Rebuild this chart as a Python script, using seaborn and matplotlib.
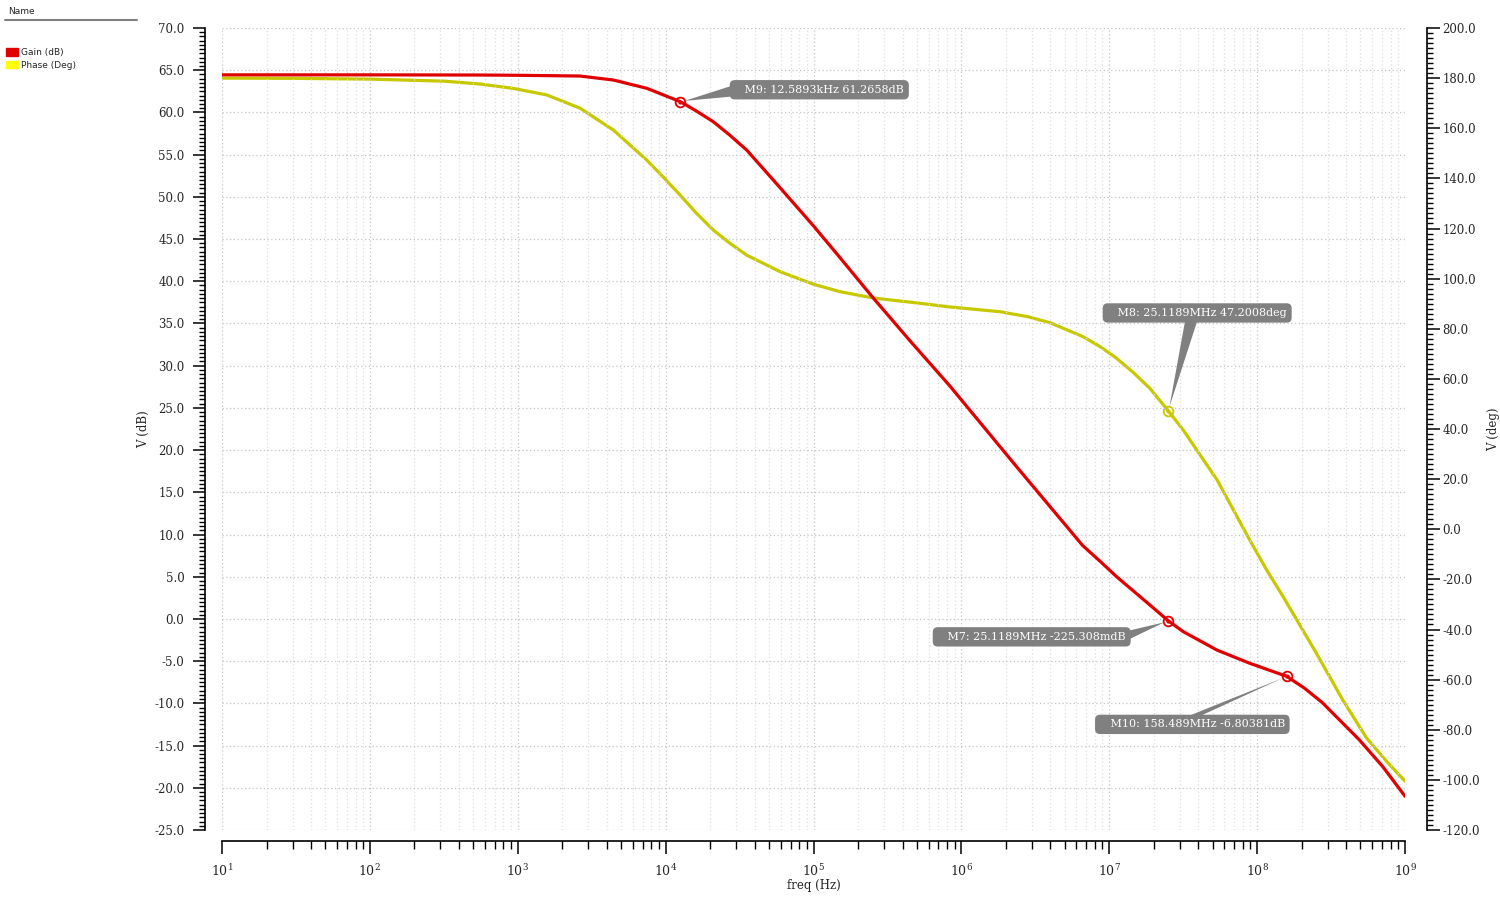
import matplotlib
matplotlib.use("Agg")
import numpy as np
import matplotlib.pyplot as plt
import seaborn as sns
from matplotlib.patches import Patch
from matplotlib.lines import Line2D
from matplotlib.ticker import MultipleLocator, LogLocator, NullFormatter, FormatStrFormatter

# --- data ---
freq_gain = [10, 100, 555, 1000, 2640, 4430, 7450, 12589.3, 16200, 21000, 27200,
             35300, 59300, 99500, 151000, 251200, 446700, 835600, 2.371e6, 6.607e6,
             8.71e6, 1.122e7, 1.884e7, 2.51189e7, 3.162e7, 5.37e7, 8.913e7, 1.58489e8,
             2.09e8, 2.754e8, 4.898e8, 7.079e8, 1e9]
gain_db = [64.45, 64.45, 64.43, 64.4, 64.31, 63.84, 62.86, 61.27, 60.15, 58.9, 57.3,
           55.55, 51.1, 46.6, 42.8, 38.1, 33.0, 27.6, 18.0, 8.7,
           6.8, 5.0, 1.65, -0.23, -1.5, -3.7, -5.25, -6.8,
           -8.2, -9.9, -14.3, -17.5, -21.0]

freq_phase = [10, 31.6, 100, 316, 555, 933, 1570, 2640, 4430, 7450, 9640, 12500,
              16200, 21000, 27200, 35300, 59300, 99500, 151000, 251200, 501200,
              835600, 1.82e6, 2.82e6, 3.981e6, 6.668e6, 8.71e6, 1.122e7, 1.445e7, 1.884e7,
              2.51189e7, 3.162e7, 5.37e7, 8.913e7, 1.161e8, 1.5e8, 2.512e8, 3.802e8,
              5.495e8, 7.586e8, 1e9]
phase_deg = [180.0, 179.9, 179.6, 178.8, 177.65, 175.9, 173.3, 168.0, 159.3, 147.3, 140.5, 133.4,
             126.0, 119.4, 114.1, 109.4, 102.8, 97.8, 94.8, 92.3, 90.3,
             88.7, 86.8, 84.8, 82.4, 76.8, 72.8, 68.2, 62.7, 56.2,
             47.2, 39.6, 19.6, -4.3, -16.3, -26.9, -49.4, -68.2,
             -83.3, -92.9, -100.5]

# markers: (name, freq, value, label)
gain_markers = [("M9", 12589.3, 61.2658, "M9: 12.5893kHz 61.2658dB"),
                ("M7", 2.51189e7, -0.225308, "M7: 25.1189MHz -225.308mdB"),
                ("M10", 1.58489e8, -6.80381, "M10: 158.489MHz -6.80381dB")]
phase_markers = [("M8", 2.51189e7, 47.2008, "M8: 25.1189MHz 47.2008deg")]

RED = "#e00000"
YEL = "#c8c800"
GREY = "#808080"

sns.set_theme(style="ticks")
plt.rcParams["font.family"] = ["DejaVu Serif"]
plt.rcParams["mathtext.fontset"] = "dejavuserif"

fig = plt.figure(figsize=(15, 9), dpi=100)
ax = fig.add_axes([222/1500, 1-830/900, 1183/1500, 802/900])
ax2 = ax.twinx()
ax.set_zorder(ax2.get_zorder() + 1)
ax.patch.set_visible(False)

sns.lineplot(x=freq_phase, y=phase_deg, ax=ax2, color=YEL, lw=2.3)
sns.lineplot(x=freq_gain, y=gain_db, ax=ax, color=RED, lw=2.3)

ax.set_xscale("log")
ax.set_xlim(10, 1e9)
ax.set_ylim(-25, 70)
ax2.set_ylim(-120, 200)

ax.yaxis.set_major_locator(MultipleLocator(5))
ax.yaxis.set_minor_locator(MultipleLocator(0.5))
ax.yaxis.set_major_formatter(FormatStrFormatter("%.1f"))
ax2.yaxis.set_major_locator(MultipleLocator(20))
ax2.yaxis.set_minor_locator(MultipleLocator(2))
ax2.yaxis.set_major_formatter(FormatStrFormatter("%.1f"))
ax.xaxis.set_major_locator(LogLocator(base=10, numticks=20))
ax.xaxis.set_minor_locator(LogLocator(base=10, subs=np.arange(2, 10), numticks=100))
ax.xaxis.set_minor_formatter(NullFormatter())

ax.grid(which="major", axis="both", color="#c4c4c4", lw=0.9, dashes=(1, 2))
ax.grid(which="minor", axis="x", color="#dedede", lw=0.9, dashes=(1, 2))
ax2.grid(False)

for a in (ax, ax2):
    for s in a.spines.values():
        s.set_visible(False)
ax.spines["left"].set_visible(True)
ax.spines["left"].set_position(("outward", 12))
ax.spines["bottom"].set_visible(True)
ax.spines["bottom"].set_position(("outward", 8))
ax2.spines["right"].set_visible(True)
ax2.spines["right"].set_position(("outward", 16))
for s in (ax.spines["left"], ax.spines["bottom"], ax2.spines["right"]):
    s.set_color("black")
    s.set_linewidth(1.2)

ax.tick_params(axis="y", which="major", length=9, width=1.1, pad=6, labelsize=8.5, color="black")
ax.tick_params(axis="y", which="minor", length=4, width=1.0, color="black", left=True)
ax.tick_params(axis="x", which="major", length=9, width=1.1, pad=7, labelsize=9, color="black")
ax.tick_params(axis="x", which="minor", length=6, width=1.0, color="black", bottom=True)
ax2.tick_params(axis="y", which="major", length=9, width=1.1, pad=2, labelsize=8.5, color="black")
ax2.tick_params(axis="y", which="minor", length=4, width=1.0, color="black", right=True)

ax.set_xlabel("freq (Hz)", fontsize=8.5)
ax.set_ylabel("V (dB)", fontsize=8.5)
ax2.set_ylabel("V (deg)", fontsize=8.5)
ax.xaxis.set_label_coords(0.5, -0.061)
ax.yaxis.set_label_coords(-0.0609, 0.5)
ax2.yaxis.set_label_coords(1.069, 0.5)

# marker annotations: text offset (px), wedge start on the box, wedge width
label_style = {"M9": ((54, 12), (0.0, 0.4), 1.0),
               "M8": ((-61, 98), (0.47, 0.0), 1.1),
               "M7": ((-231, -16), (1.0, 0.6), 0.8),
               "M10": ((-187, -48), (0.47, 1.0), 0.45)}

def put_marker(a, f, v, text, name, color):
    # labels all live on the top axes so the grid never crosses them
    a.plot([f], [v], marker="o", ms=7, mfc="none", mec=color, mew=1.3, zorder=5)
    a.plot([f], [v], marker="o", ms=2, color=color, zorder=5)
    off, rel, tw = label_style[name]
    ax.annotate("   " + text, xy=(f, v), xycoords=a.transData, xytext=off,
                textcoords="offset pixels",
                ha="left", va="center", color="white", fontsize=8,
                bbox=dict(boxstyle="round,pad=0.42,rounding_size=0.45", fc=GREY, ec="none"),
                arrowprops=dict(arrowstyle=f"wedge,tail_width={tw}", fc=GREY, ec="none",
                                relpos=rel, patchA=None, shrinkA=0, shrinkB=3),
                zorder=6)

for name, f, v, text in gain_markers:
    put_marker(ax, f, v, text, name, RED)
for name, f, v, text in phase_markers:
    put_marker(ax2, f, v, text, name, YEL)

# legend panel at the top left
fig.text(8/1500, 1-12/900, "Name", fontsize=6.5, family="DejaVu Sans", va="center", ha="left")
fig.add_artist(Line2D([5/1500, 137/1500], [1-20/900, 1-20/900], color=GREY, lw=1.5))
handles = [Patch(color="#e00000", label="Gain (dB)"), Patch(color="#ffff00", label="Phase (Deg)")]
fig.legend(handles=handles, loc="upper left", bbox_to_anchor=(6/1500, 1-48/900),
           frameon=False, prop={"family": "DejaVu Sans", "size": 6.5},
           handlelength=1.35, handleheight=0.9, handletextpad=0.3, labelspacing=0.4,
           borderpad=0, borderaxespad=0)

fig.savefig("out.png", dpi=100)
